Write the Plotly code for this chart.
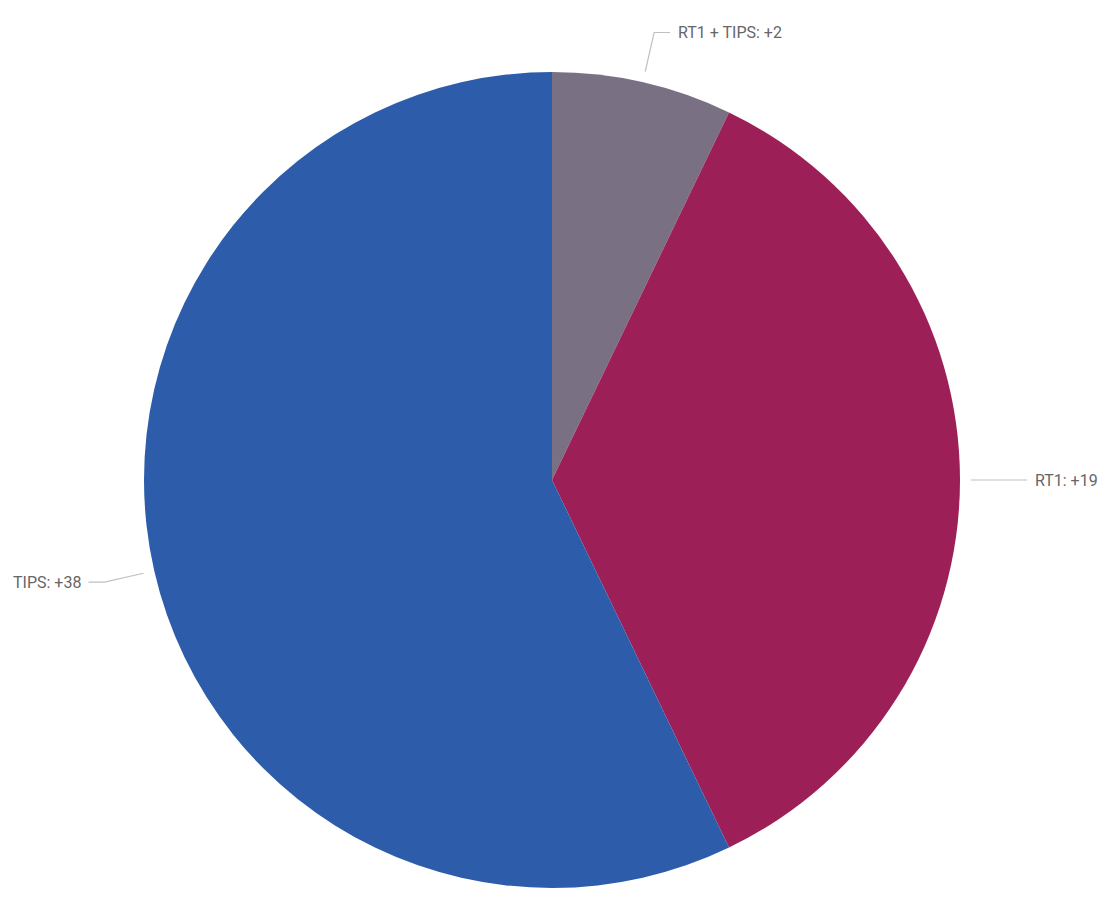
import math
import plotly.graph_objects as go

# slice data (sizes, text from labels)
labels = ['RT1 + TIPS', 'RT1', 'TIPS']
values = [5, 25, 40]
label_text = ['+2', '+19', '+38']
colors = ['#7a7083', '#9c2057', '#2d5caa']

# page has an 8px body margin, so the figure is a bit smaller than the window
W, H = 1103, 901
cx, cy, r = 544, 472, 408

fig = go.Figure(go.Pie(
    labels=labels,
    values=values,
    sort=False,
    direction='clockwise',
    rotation=0,
    textinfo='none',
    hoverinfo='label+value',
    marker=dict(colors=colors, line=dict(width=0)),
    domain=dict(x=[(cx - r) / W, (cx + r) / W],
                y=[1 - (cy + r) / H, 1 - (cy - r) / H]),
))


def px(x, y):
    return x / W, 1 - y / H


total = sum(values)
cum = 0
for lab, v, t in zip(labels, values, label_text):
    mid = (cum + v / 2) / total * 2 * math.pi
    cum += v
    s, c = math.sin(mid), math.cos(mid)
    x0, y0 = cx + 419 * s, cy - 419 * c
    x1, y1 = cx + 459 * s, cy - 459 * c
    side = 1 if s >= 0 else -1
    x2 = x1 + side * 16
    pts = [px(x0, y0), px(x1, y1), px(x2, y1)]
    path = 'M {} {} L {} {} L {} {}'.format(pts[0][0], pts[0][1], pts[1][0], pts[1][1], pts[2][0], pts[2][1])
    fig.add_shape(type='path', path=path, xref='paper', yref='paper',
                  line=dict(color='#c0c0c0', width=1.2))
    tx, ty = px(x2 + side * 6, y1)
    fig.add_annotation(x=tx, y=ty, xref='paper', yref='paper',
                       text='{}: {}'.format(lab, t), showarrow=False,
                       xanchor='left' if side > 0 else 'right', yanchor='middle',
                       font=dict(family='Roboto', size=16, color='#666666'))

fig.update_layout(width=W, height=H, margin=dict(l=0, r=0, t=0, b=0),
                  showlegend=False, paper_bgcolor='white', plot_bgcolor='white')

fig.write_html('out.html')
